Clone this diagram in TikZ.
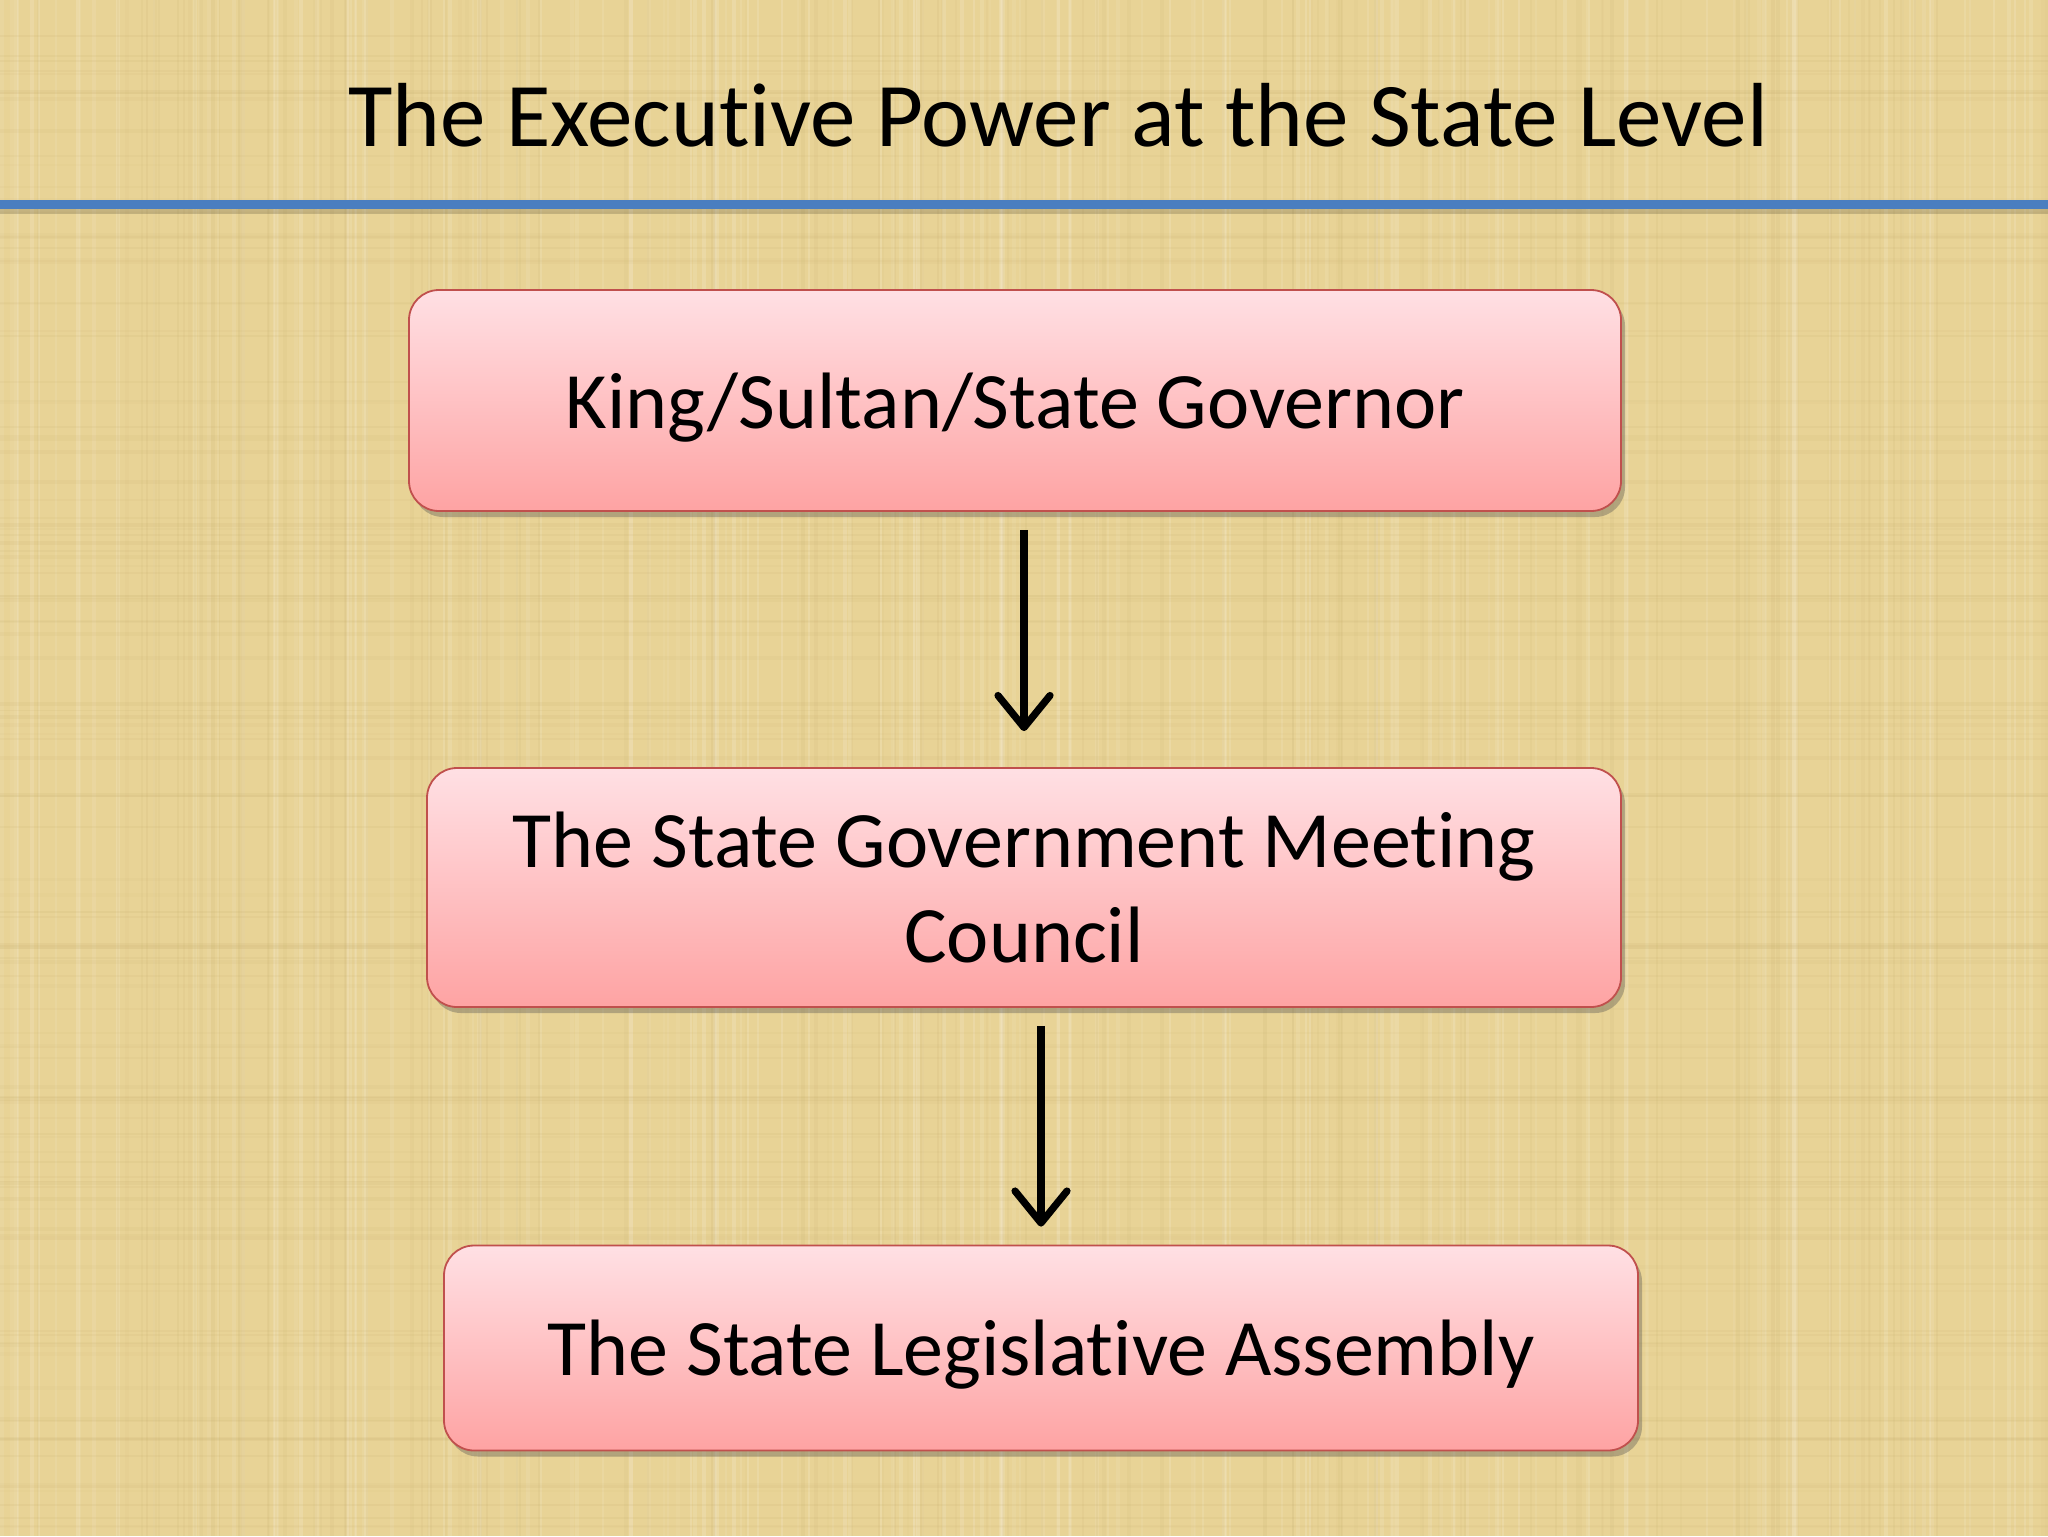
\documentclass[tikz,border=0pt]{standalone}
\usepackage{fontspec}
\setmainfont[Ligatures=NoCommon]{Carlito}
\usetikzlibrary{shadows,arrows.meta}
\definecolor{bg}{RGB}{232,211,150}
\definecolor{bgdark}{RGB}{190,165,100}
\definecolor{rule}{RGB}{74,126,192}
\definecolor{boxtop}{RGB}{255,224,228}
\definecolor{boxbot}{RGB}{254,163,163}
\definecolor{boxline}{RGB}{192,80,77}
\tikzset{
  stagebox/.style={rectangle, rounded corners=15pt, draw=boxline, line width=0.9pt,
    top color=boxtop, bottom color=boxbot, minimum height=110pt,
    align=center, font=\fontsize{40}{47.5}\selectfont, text=black,
    drop shadow={shadow xshift=2pt, shadow yshift=-3pt, opacity=0.35, fill=black!70}},
  flowarrow/.style={line width=3.6pt, black, -{Straight Barb[length=16pt,width=26pt,round]}},
}
\newcommand{\lowertext}[1]{\raisebox{-3.5pt}[\height][\depth]{#1}}
\begin{document}
\begin{tikzpicture}[x=0.5pt,y=-0.5pt]
\useasboundingbox (0,0) rectangle (2048,1536);
\fill[bg] (0,0) rectangle (2048,1536);
% subtle woven texture
\pgfmathsetseed{7}
\foreach \i in {1,...,160}{
  \pgfmathsetmacro{\xx}{random(0,2048)}
  \pgfmathsetmacro{\ww}{0.5+2*rnd}
  \pgfmathsetmacro{\oo}{0.05+0.10*rnd}
  \draw[line width=\ww pt, white, opacity=\oo] (\xx,0) -- (\xx,1536);
}
\foreach \i in {1,...,120}{
  \pgfmathsetmacro{\xx}{random(0,2048)}
  \pgfmathsetmacro{\ww}{0.5+1.5*rnd}
  \pgfmathsetmacro{\oo}{0.04+0.08*rnd}
  \draw[line width=\ww pt, bgdark, opacity=\oo] (\xx,0) -- (\xx,1536);
}
\foreach \i in {1,...,120}{
  \pgfmathsetmacro{\yy}{random(0,1536)}
  \pgfmathsetmacro{\ww}{0.5+1.5*rnd}
  \pgfmathsetmacro{\oo}{0.04+0.08*rnd}
  \draw[line width=\ww pt, bgdark, opacity=\oo] (0,\yy) -- (2048,\yy);
}
% title and rule
\node[anchor=base, font=\fontsize{45.5}{54}\selectfont] (title) at (1058,146) {The Executive Power at the State Level};
\fill[black, opacity=0.15] (0,209) rectangle (2048,214);
\fill[rule] (0,200) rectangle (2048,209);
% boxes
\node[stagebox, minimum width=606pt, minimum height=110.5pt] (b1) at (1015,400.5) {\lowertext{King/Sultan/State Governor}};
\node[stagebox, minimum width=597pt, minimum height=119.5pt] (b2) at (1024,887.5) {The State Government Meeting\\Council};
\node[stagebox, minimum width=597pt, minimum height=102.5pt] (b3) at (1041,1348) {\lowertext{The State Legislative Assembly}};
% arrows
\draw[flowarrow, shorten <=9pt, shorten >=18pt] (b1.south -| b2.north) -- (b2.north);
\draw[flowarrow, shorten <=9pt, shorten >=9pt] (b2.south -| b3.north) -- (b3.north);
\end{tikzpicture}
\end{document}
